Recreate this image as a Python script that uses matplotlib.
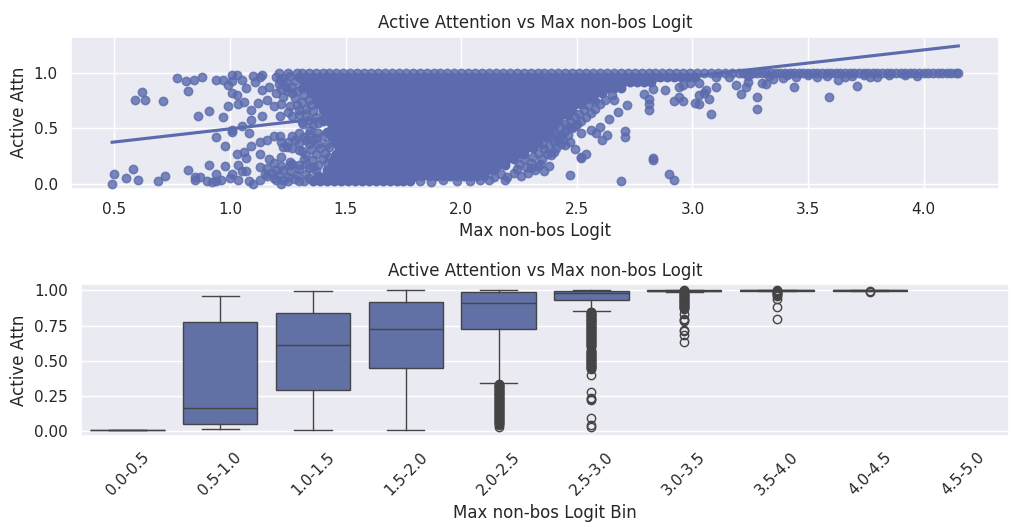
"""Active attention against the largest non-bos logit: regression scatter and binned box plot."""

import matplotlib

matplotlib.use("Agg")

import matplotlib.pyplot as plt
import numpy as np

POINT_COLOR = "#5b6bad"
BOX_COLOR = "#6171a5"
LINE_COLOR = "#444444"

# Rows of overlapping points forming the dense body of the scatter.
CORE_ATTN = [0.97, 0.92, 0.87, 0.82, 0.77, 0.72, 0.67, 0.62, 0.57, 0.52,
             0.47, 0.42, 0.37, 0.32, 0.27, 0.22, 0.17, 0.12, 0.07, 0.02]
CORE_LOGIT = [
    [1.30, 1.33, 1.36, 1.39, 1.42, 1.45, 1.48, 1.51, 1.54, 1.57, 1.60, 1.63, 1.66, 1.69, 1.72, 1.75, 1.78, 1.81, 1.84, 1.87, 1.90, 1.93, 1.96, 1.99, 2.02, 2.05, 2.08, 2.11, 2.14, 2.17, 2.20, 2.23, 2.26, 2.29, 2.32, 2.35, 2.38, 2.41, 2.44, 2.47, 2.50, 2.53, 2.56, 2.59, 2.62, 2.65, 2.68, 2.71, 2.74, 2.77, 2.80, 2.83, 2.86, 2.89, 2.92, 2.95, 2.98, 3.01],
    [1.32, 1.35, 1.38, 1.41, 1.44, 1.47, 1.50, 1.53, 1.56, 1.59, 1.62, 1.65, 1.68, 1.71, 1.74, 1.77, 1.80, 1.83, 1.86, 1.89, 1.92, 1.95, 1.98, 2.01, 2.04, 2.07, 2.10, 2.13, 2.16, 2.19, 2.22, 2.25, 2.28, 2.31, 2.34, 2.37, 2.40, 2.43, 2.46, 2.49, 2.52, 2.55, 2.58, 2.61, 2.64, 2.67, 2.70, 2.73, 2.76, 2.79, 2.82],
    [1.31, 1.34, 1.37, 1.40, 1.43, 1.46, 1.49, 1.52, 1.55, 1.58, 1.61, 1.64, 1.67, 1.70, 1.73, 1.76, 1.79, 1.82, 1.85, 1.88, 1.91, 1.94, 1.97, 2.00, 2.03, 2.06, 2.09, 2.12, 2.15, 2.18, 2.21, 2.24, 2.27, 2.30, 2.33, 2.36, 2.39, 2.42, 2.45, 2.48, 2.51, 2.54, 2.57, 2.60, 2.63, 2.66, 2.69],
    [1.35, 1.38, 1.41, 1.44, 1.47, 1.50, 1.53, 1.56, 1.59, 1.62, 1.65, 1.68, 1.71, 1.74, 1.77, 1.80, 1.83, 1.86, 1.89, 1.92, 1.95, 1.98, 2.01, 2.04, 2.07, 2.10, 2.13, 2.16, 2.19, 2.22, 2.25, 2.28, 2.31, 2.34, 2.37, 2.40, 2.43, 2.46, 2.49, 2.52, 2.55, 2.58, 2.61],
    [1.37, 1.40, 1.43, 1.46, 1.49, 1.52, 1.55, 1.58, 1.61, 1.64, 1.67, 1.70, 1.73, 1.76, 1.79, 1.82, 1.85, 1.88, 1.91, 1.94, 1.97, 2.00, 2.03, 2.06, 2.09, 2.12, 2.15, 2.18, 2.21, 2.24, 2.27, 2.30, 2.33, 2.36, 2.39, 2.42, 2.45, 2.48, 2.51, 2.54, 2.57],
    [1.38, 1.41, 1.44, 1.47, 1.50, 1.53, 1.56, 1.59, 1.62, 1.65, 1.68, 1.71, 1.74, 1.77, 1.80, 1.83, 1.86, 1.89, 1.92, 1.95, 1.98, 2.01, 2.04, 2.07, 2.10, 2.13, 2.16, 2.19, 2.22, 2.25, 2.28, 2.31, 2.34, 2.37, 2.40, 2.43, 2.46, 2.49, 2.52],
    [1.40, 1.43, 1.46, 1.49, 1.52, 1.55, 1.58, 1.61, 1.64, 1.67, 1.70, 1.73, 1.76, 1.79, 1.82, 1.85, 1.88, 1.91, 1.94, 1.97, 2.00, 2.03, 2.06, 2.09, 2.12, 2.15, 2.18, 2.21, 2.24, 2.27, 2.30, 2.33, 2.36, 2.39, 2.42, 2.45, 2.48],
    [1.41, 1.44, 1.47, 1.50, 1.53, 1.56, 1.59, 1.62, 1.65, 1.68, 1.71, 1.74, 1.77, 1.80, 1.83, 1.86, 1.89, 1.92, 1.95, 1.98, 2.01, 2.04, 2.07, 2.10, 2.13, 2.16, 2.19, 2.22, 2.25, 2.28, 2.31, 2.34, 2.37, 2.40, 2.43, 2.46],
    [1.40, 1.43, 1.46, 1.49, 1.52, 1.55, 1.58, 1.61, 1.64, 1.67, 1.70, 1.73, 1.76, 1.79, 1.82, 1.85, 1.88, 1.91, 1.94, 1.97, 2.00, 2.03, 2.06, 2.09, 2.12, 2.15, 2.18, 2.21, 2.24, 2.27, 2.30, 2.33, 2.36, 2.39, 2.42],
    [1.44, 1.47, 1.50, 1.53, 1.56, 1.59, 1.62, 1.65, 1.68, 1.71, 1.74, 1.77, 1.80, 1.83, 1.86, 1.89, 1.92, 1.95, 1.98, 2.01, 2.04, 2.07, 2.10, 2.13, 2.16, 2.19, 2.22, 2.25, 2.28, 2.31, 2.34, 2.37, 2.40],
    [1.42, 1.45, 1.48, 1.51, 1.54, 1.57, 1.60, 1.63, 1.66, 1.69, 1.72, 1.75, 1.78, 1.81, 1.84, 1.87, 1.90, 1.93, 1.96, 1.99, 2.02, 2.05, 2.08, 2.11, 2.14, 2.17, 2.20, 2.23, 2.26, 2.29, 2.32, 2.35, 2.38],
    [1.44, 1.47, 1.50, 1.53, 1.56, 1.59, 1.62, 1.65, 1.68, 1.71, 1.74, 1.77, 1.80, 1.83, 1.86, 1.89, 1.92, 1.95, 1.98, 2.01, 2.04, 2.07, 2.10, 2.13, 2.16, 2.19, 2.22, 2.25, 2.28, 2.31, 2.34, 2.37],
    [1.46, 1.49, 1.52, 1.55, 1.58, 1.61, 1.64, 1.67, 1.70, 1.73, 1.76, 1.79, 1.82, 1.85, 1.88, 1.91, 1.94, 1.97, 2.00, 2.03, 2.06, 2.09, 2.12, 2.15, 2.18, 2.21, 2.24, 2.27, 2.30, 2.33],
    [1.47, 1.50, 1.53, 1.56, 1.59, 1.62, 1.65, 1.68, 1.71, 1.74, 1.77, 1.80, 1.83, 1.86, 1.89, 1.92, 1.95, 1.98, 2.01, 2.04, 2.07, 2.10, 2.13, 2.16, 2.19, 2.22, 2.25, 2.28, 2.31],
    [1.46, 1.49, 1.52, 1.55, 1.58, 1.61, 1.64, 1.67, 1.70, 1.73, 1.76, 1.79, 1.82, 1.85, 1.88, 1.91, 1.94, 1.97, 2.00, 2.03, 2.06, 2.09, 2.12, 2.15, 2.18, 2.21, 2.24, 2.27],
    [1.45, 1.48, 1.51, 1.54, 1.57, 1.60, 1.63, 1.66, 1.69, 1.72, 1.75, 1.78, 1.81, 1.84, 1.87, 1.90, 1.93, 1.96, 1.99, 2.02, 2.05, 2.08, 2.11, 2.14, 2.17, 2.20, 2.23],
    [1.44, 1.47, 1.50, 1.53, 1.56, 1.59, 1.62, 1.65, 1.68, 1.71, 1.74, 1.77, 1.80, 1.83, 1.86, 1.89, 1.92, 1.95, 1.98, 2.01, 2.04, 2.07, 2.10, 2.13, 2.16, 2.19],
    [1.42, 1.45, 1.48, 1.51, 1.54, 1.57, 1.60, 1.63, 1.66, 1.69, 1.72, 1.75, 1.78, 1.81, 1.84, 1.87, 1.90, 1.93, 1.96, 1.99, 2.02, 2.05, 2.08, 2.11, 2.14],
    [1.38, 1.41, 1.44, 1.47, 1.50, 1.53, 1.56, 1.59, 1.62, 1.65, 1.68, 1.71, 1.74, 1.77, 1.80, 1.83, 1.86, 1.89, 1.92, 1.95, 1.98, 2.01, 2.04, 2.07, 2.10],
    [1.36, 1.39, 1.42, 1.45, 1.48, 1.51, 1.54, 1.57, 1.60, 1.63, 1.66, 1.69, 1.72, 1.75, 1.78],
]

# Saturated values along attention = 1.
TOP_LOGIT = [1.31, 1.34, 1.37, 1.40, 1.43, 1.46, 1.49, 1.52, 1.55, 1.58, 1.61, 1.64, 1.67, 1.70, 1.73, 1.76, 1.79, 1.82, 1.85, 1.88, 1.91, 1.94, 1.97, 2.00, 2.03, 2.06, 2.09, 2.12, 2.15, 2.18, 2.21, 2.24, 2.27, 2.30, 2.33, 2.36, 2.39, 2.42, 2.45, 2.48, 2.51, 2.54, 2.57, 2.60, 2.63, 2.66, 2.69, 2.72, 2.75, 2.78, 2.81, 2.84, 2.87, 2.90, 2.93, 2.96, 2.99, 3.02, 3.05, 3.08, 3.11, 3.14, 3.17, 3.20, 3.22, 3.24, 3.26, 3.28, 3.30, 3.32, 3.34, 3.36, 3.38, 3.40, 3.42, 3.44, 3.46, 3.48, 3.50, 3.52, 3.54, 3.56, 3.58, 3.60, 3.62, 3.64, 3.66, 3.68, 3.70, 3.72, 3.74, 3.76, 3.78, 3.80, 3.82, 3.84, 3.86, 3.88, 3.90, 3.92, 3.94, 3.96, 3.98, 4.00, 4.02, 4.04, 4.06, 4.08, 4.10, 4.12, 4.14, 4.15]

# Scattered points on the low-logit side.
LEFT_LOGIT = [0.49, 0.50, 0.55, 0.58, 0.60, 0.69, 0.72, 0.59, 0.62, 0.63, 0.71, 0.77, 0.81, 0.845, 0.88, 0.82, 0.86, 0.91, 0.97, 0.82, 0.91, 0.98, 0.85, 0.87, 0.85, 0.90, 0.92, 0.94, 0.96, 0.94, 1.01, 1.00, 1.035, 1.05, 1.07, 1.035, 1.08, 1.10, 1.13, 1.13, 1.16, 1.19, 1.20, 1.22, 1.25, 1.26, 1.30, 1.32, 0.94, 0.97, 1.01, 1.03, 1.01, 1.05, 0.99, 1.10, 1.14, 1.13, 1.11, 1.07, 1.14, 1.17, 1.01, 1.03, 0.99, 1.035, 1.06, 1.09, 1.12, 1.16, 1.19, 1.14, 1.09, 1.05, 1.01, 0.94, 0.98, 1.01, 1.08, 1.13, 1.09, 1.03, 1.06, 1.07, 1.13, 1.17, 1.22, 1.21, 1.25, 1.29, 1.215, 1.24, 1.20, 1.23, 1.27, 1.26, 1.30, 1.215, 1.27, 1.19, 1.215, 1.245, 1.16, 1.23, 1.27, 1.33, 1.36, 1.30, 1.345, 1.36, 1.33, 1.27, 1.30, 1.315]
LEFT_ATTN = [0.00, 0.09, 0.05, 0.13, 0.03, 0.02, 0.07, 0.76, 0.83, 0.76, 0.75, 0.96, 0.93, 0.94, 0.97, 0.84, 0.61, 0.66, 0.60, 0.12, 0.165, 0.156, 0.03, 0.06, 0.06, 0.02, 0.01, 0.02, 0.03, 0.09, 0.09, 0.05, 0.03, 0.11, 0.11, 0.17, 0.02, 0.00, 0.03, 0.15, 0.14, 0.05, 0.12, 0.00, 0.02, 0.17, 0.02, 0.02, 0.94, 0.94, 0.99, 0.99, 0.93, 0.94, 0.895, 0.98, 0.99, 0.97, 0.92, 0.865, 0.85, 0.88, 0.82, 0.80, 0.70, 0.72, 0.74, 0.67, 0.73, 0.76, 0.70, 0.61, 0.58, 0.52, 0.49, 0.425, 0.34, 0.47, 0.46, 0.38, 0.34, 0.27, 0.29, 0.23, 0.27, 0.22, 0.24, 1.00, 1.00, 1.00, 0.94, 0.88, 0.82, 0.79, 0.82, 0.70, 0.67, 0.61, 0.61, 0.43, 0.43, 0.335, 0.395, 0.335, 0.18, 0.18, 0.15, 0.305, 0.49, 0.395, 0.395, 0.43, 0.455, 0.545]

# Crowded fringe just left of the dense body.
FRINGE_LOGIT = [1.20, 1.23, 1.26, 1.28, 1.24, 1.21, 1.27, 1.29, 1.25, 1.22, 1.28, 1.32, 1.34, 1.31, 1.35, 1.33, 1.29, 1.36, 1.33, 1.30, 1.37, 1.34, 1.38, 1.31, 1.36, 1.25, 1.22, 1.38, 1.34, 1.40, 1.37, 1.32, 1.28, 1.25, 1.22, 1.30, 1.34, 1.38, 1.42, 1.43, 1.39, 1.35, 1.31, 1.27, 1.41, 1.37, 1.33, 1.43, 1.40, 1.36, 1.32, 1.42, 1.38, 1.34, 1.30, 1.26, 1.23, 1.29, 1.33, 1.37, 1.25, 1.21, 1.18, 1.16, 1.28, 1.34, 1.23, 1.20, 1.30, 1.26, 1.22, 1.19, 1.15]
FRINGE_ATTN = [0.97, 0.96, 0.98, 0.93, 0.92, 0.90, 0.88, 0.84, 0.84, 0.86, 0.78, 0.80, 0.76, 0.74, 0.71, 0.68, 0.71, 0.66, 0.63, 0.62, 0.60, 0.58, 0.55, 0.56, 0.53, 0.65, 0.72, 0.46, 0.45, 0.43, 0.41, 0.42, 0.40, 0.38, 0.38, 0.37, 0.36, 0.36, 0.36, 0.33, 0.32, 0.31, 0.30, 0.32, 0.28, 0.27, 0.26, 0.24, 0.22, 0.21, 0.22, 0.19, 0.17, 0.14, 0.13, 0.11, 0.12, 0.08, 0.09, 0.11, 0.06, 0.08, 0.10, 0.07, 0.04, 0.05, 0.03, 0.03, 0.17, 0.20, 0.16, 0.19, 0.09]

# Scattered points on the high-logit side.
RIGHT_LOGIT = [2.30, 2.36, 2.38, 2.34, 2.40, 2.45, 2.49, 2.47, 2.415, 2.47, 2.52, 2.54, 2.52, 2.61, 2.63, 2.71, 2.71, 2.69, 2.83, 2.83, 2.90, 2.92, 2.585, 2.52, 2.435, 2.47, 2.49, 2.56, 2.60, 2.64, 2.68, 2.715, 2.66, 2.65, 2.79, 2.81, 2.81, 2.81, 2.92, 2.94, 2.96, 3.01, 3.03, 3.03, 3.05, 3.07, 3.06, 3.08, 3.10, 3.19, 3.21, 3.23, 3.28, 3.28, 3.44, 3.59, 3.71, 3.63, 3.32, 3.30, 3.35, 3.39, 2.83, 2.88, 2.94, 2.96, 2.99, 3.03, 3.24, 3.80, 3.77, 3.97, 3.66, 3.54, 3.45, 3.10, 3.16]
RIGHT_ATTN = [0.14, 0.11, 0.16, 0.18, 0.29, 0.35, 0.31, 0.38, 0.395, 0.08, 0.23, 0.27, 0.24, 0.395, 0.445, 0.48, 0.425, 0.02, 0.23, 0.21, 0.09, 0.035, 0.455, 0.455, 0.44, 0.515, 0.52, 0.485, 0.515, 0.59, 0.65, 0.71, 0.76, 0.80, 0.81, 0.77, 0.72, 0.67, 0.75, 0.79, 0.75, 0.73, 0.72, 0.80, 0.82, 0.77, 0.85, 0.63, 0.88, 0.895, 0.81, 0.88, 0.79, 0.68, 0.875, 0.79, 0.885, 0.94, 0.90, 0.91, 0.95, 0.955, 0.855, 0.85, 0.88, 0.895, 0.91, 0.91, 0.925, 0.97, 0.97, 0.975, 0.97, 0.97, 0.97, 0.97, 0.97]

# Crowded lower-right edge of the body, the low floor and the band just under 1.
EDGE_LOGIT = [2.14, 2.17, 2.20, 2.23, 2.26, 2.29, 2.12, 2.19, 2.24, 2.28, 2.32, 2.25, 2.30, 2.33, 2.27, 2.31, 2.35, 2.37, 2.33, 2.39, 2.36, 2.41, 2.38, 2.43, 2.35, 2.40, 2.44, 2.38, 2.42, 2.46, 2.40, 2.45, 2.43, 2.48, 2.45, 2.50, 2.47, 2.52, 2.49, 2.54, 2.51, 2.56, 2.53, 2.58, 2.55, 2.60, 2.62, 2.58, 1.82, 1.87, 1.92, 1.98, 2.04, 2.08, 3.24, 3.33, 3.41, 3.50, 3.58, 3.69, 3.74, 3.85, 3.92]
EDGE_ATTN = [0.06, 0.09, 0.06, 0.10, 0.07, 0.10, 0.03, 0.03, 0.13, 0.15, 0.12, 0.18, 0.19, 0.16, 0.22, 0.24, 0.22, 0.27, 0.28, 0.26, 0.31, 0.32, 0.34, 0.36, 0.36, 0.38, 0.40, 0.42, 0.44, 0.44, 0.47, 0.48, 0.51, 0.50, 0.54, 0.54, 0.57, 0.57, 0.60, 0.60, 0.63, 0.64, 0.67, 0.68, 0.71, 0.72, 0.76, 0.75, 0.02, 0.01, 0.03, 0.02, 0.02, 0.03, 0.98, 0.98, 0.985, 0.985, 0.98, 0.98, 0.985, 0.985, 0.985]

FIT_LOGIT = [0.49, 4.15]
FIT_ATTN = [0.375, 1.25]

BIN_LABELS = ["0.0-0.5", "0.5-1.0", "1.0-1.5", "1.5-2.0", "2.0-2.5",
              "2.5-3.0", "3.0-3.5", "3.5-4.0", "4.0-4.5", "4.5-5.0"]
# The last bin holds no samples, so it has no box.
BOX_POSITIONS = [0, 1, 2, 3, 4, 5, 6, 7, 8]
WHISKER_LOW = [0.01, 0.015, 0.01, 0.01, 0.34, 0.855, 0.987, 0.998, 0.999]
BOX_Q1 = [0.01, 0.05, 0.29, 0.446, 0.724, 0.935, 0.996, 0.998, 0.999]
BOX_MEDIAN = [0.01, 0.165, 0.61, 0.724, 0.913, 0.98, 0.999, 1.0, 1.0]
BOX_Q3 = [0.01, 0.775, 0.837, 0.916, 0.987, 0.994, 1.0, 1.0, 1.0]
WHISKER_HIGH = [0.01, 0.96, 0.994, 1.0, 1.0, 1.0, 1.0, 1.0, 1.0]
FLIERS_20_25 = [0.335, 0.33, 0.325, 0.32, 0.315, 0.31, 0.305, 0.30, 0.295, 0.29, 0.285, 0.28, 0.275, 0.27, 0.265, 0.26, 0.255, 0.25, 0.245, 0.24, 0.235, 0.23, 0.225, 0.22, 0.215, 0.21, 0.205, 0.20, 0.195, 0.19, 0.185, 0.18, 0.175, 0.17, 0.165, 0.16, 0.155, 0.15, 0.145, 0.14, 0.135, 0.13, 0.125, 0.12, 0.115, 0.11, 0.105, 0.10, 0.095, 0.09, 0.085, 0.08, 0.075, 0.07, 0.065, 0.06, 0.055, 0.05, 0.045, 0.03]
FLIERS_25_30 = [0.85, 0.845, 0.84, 0.835, 0.83, 0.825, 0.82, 0.815, 0.81, 0.805, 0.80, 0.795, 0.79, 0.785, 0.78, 0.775, 0.77, 0.765, 0.76, 0.755, 0.75, 0.745, 0.74, 0.735, 0.73, 0.725, 0.72, 0.715, 0.71, 0.705, 0.70, 0.695, 0.69, 0.685, 0.68, 0.675, 0.67, 0.665, 0.66, 0.655, 0.65, 0.645, 0.64, 0.635, 0.63, 0.625, 0.62, 0.615, 0.61, 0.605, 0.60, 0.575, 0.57, 0.565, 0.56, 0.555, 0.55, 0.545, 0.54, 0.535, 0.53, 0.525, 0.52, 0.515, 0.51, 0.505, 0.50, 0.495, 0.49, 0.485, 0.48, 0.475, 0.47, 0.465, 0.46, 0.455, 0.45, 0.445, 0.44, 0.40, 0.28, 0.235, 0.225, 0.22, 0.095, 0.04, 0.03]
FLIERS_30_35 = [1.0, 0.995, 0.99, 0.985, 0.98, 0.975, 0.97, 0.965, 0.96, 0.955, 0.95, 0.945, 0.94, 0.935, 0.93, 0.925, 0.92, 0.915, 0.91, 0.905, 0.90, 0.895, 0.89, 0.885, 0.88, 0.875, 0.87, 0.83, 0.80, 0.79, 0.78, 0.72, 0.71, 0.68, 0.63]
FLIERS_35_40 = [1.0, 0.995, 0.99, 0.985, 0.98, 0.975, 0.97, 0.96, 0.94, 0.88, 0.80]
FLIERS_40_45 = [0.998, 0.99]
BOX_FLIERS = [[], [], [], [], FLIERS_20_25, FLIERS_25_30, FLIERS_30_35,
              FLIERS_35_40, FLIERS_40_45]


def apply_style():
    """Set the grey grid theme used by both panels."""
    plt.rcParams.update({
        "font.family": "DejaVu Sans",
        "font.size": 12,
        "axes.facecolor": "#EAEAF2",
        "axes.edgecolor": "white",
        "axes.linewidth": 1.25,
        "axes.labelcolor": "#262626",
        "axes.titlesize": 12,
        "axes.labelsize": 12,
        "axes.titlecolor": "#262626",
        "axes.axisbelow": True,
        "grid.color": "white",
        "grid.linewidth": 1.0,
        "xtick.labelsize": 11,
        "ytick.labelsize": 11,
        "xtick.color": "#262626",
        "ytick.color": "#262626",
        "xtick.major.size": 6,
        "ytick.major.size": 6,
        "xtick.bottom": False,
        "ytick.left": False,
    })


def axes_at(figure, left, top, right, bottom):
    """Add axes given their pixel edges, measured from the top left."""
    width, height = figure.canvas.get_width_height()
    return figure.add_axes([
        left / width,
        1 - bottom / height,
        (right - left) / width,
        (bottom - top) / height,
    ])


def plot_scatter(axis):
    """Draw the scatter with its fitted line."""
    core_x = np.concatenate([np.array(row) for row in CORE_LOGIT])
    core_y = np.concatenate(
        [np.full(len(row), attn) for row, attn in zip(CORE_LOGIT, CORE_ATTN)]
    )
    # The body is many layers deep, so it renders fully opaque.
    axis.scatter(core_x, core_y, s=36, color=POINT_COLOR, linewidths=1.1, zorder=2)

    sparse_x = np.array(TOP_LOGIT + LEFT_LOGIT + FRINGE_LOGIT + RIGHT_LOGIT + EDGE_LOGIT)
    sparse_y = np.array(
        [1.0] * len(TOP_LOGIT) + LEFT_ATTN + FRINGE_ATTN + RIGHT_ATTN + EDGE_ATTN
    )
    axis.scatter(sparse_x, sparse_y, s=36, color=POINT_COLOR, alpha=0.8,
                 linewidths=1.1, zorder=3)

    axis.plot(FIT_LOGIT, FIT_ATTN, color=POINT_COLOR, linewidth=2.25, zorder=4)

    axis.set_xlim(0.312, 4.326)
    axis.set_ylim(-0.047, 1.335)
    axis.set_yticks([0.0, 0.5, 1.0])
    axis.grid(True)
    axis.set_title("Active Attention vs Max non-bos Logit")
    axis.set_xlabel("Max non-bos Logit")
    axis.set_ylabel("Active Attn")


def plot_boxes(axis):
    """Draw the binned box plot from its summary statistics."""
    stats = [
        {"med": med, "q1": q1, "q3": q3, "whislo": low, "whishi": high, "fliers": fliers}
        for med, q1, q3, low, high, fliers in zip(
            BOX_MEDIAN, BOX_Q1, BOX_Q3, WHISKER_LOW, WHISKER_HIGH, BOX_FLIERS
        )
    ]
    line_style = {"color": LINE_COLOR, "linewidth": 1.0}
    axis.bxp(
        stats,
        positions=BOX_POSITIONS,
        widths=0.8,
        capwidths=0.4,
        patch_artist=True,
        manage_ticks=False,
        boxprops={"facecolor": BOX_COLOR, "edgecolor": LINE_COLOR, "linewidth": 1.0},
        medianprops=line_style,
        whiskerprops=line_style,
        capprops=line_style,
        flierprops={
            "marker": "o",
            "markerfacecolor": "none",
            "markeredgecolor": LINE_COLOR,
            "markeredgewidth": 1.0,
            "markersize": 6,
        },
    )

    axis.set_xlim(-0.5, 9.5)
    axis.set_ylim(-0.036, 1.046)
    axis.set_xticks(range(len(BIN_LABELS)))
    axis.set_xticklabels(BIN_LABELS, rotation=45)
    axis.set_yticks([0.0, 0.25, 0.5, 0.75, 1.0])
    axis.set_yticklabels(["0.00", "0.25", "0.50", "0.75", "1.00"])
    axis.grid(True, axis="y")
    axis.set_title("Active Attention vs Max non-bos Logit")
    axis.set_xlabel("Max non-bos Logit Bin")
    axis.set_ylabel("Active Attn")


def main():
    apply_style()
    figure = plt.figure(figsize=(10.16, 5.27), dpi=100)
    plot_scatter(axes_at(figure, 71, 36.6, 999, 188.7))
    plot_boxes(axes_at(figure, 81, 284, 1009, 436))
    figure.savefig("out.png", dpi=100)
    plt.close(figure)


if __name__ == "__main__":
    main()
